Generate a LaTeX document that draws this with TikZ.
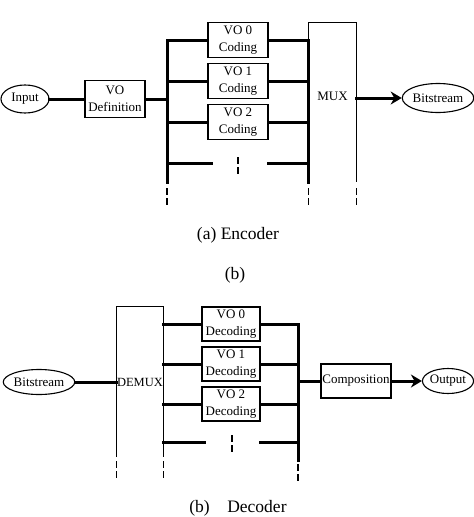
\documentclass[tikz,border=0pt]{standalone}
\usepackage{fontspec}
\setmainfont{Liberation Serif}
\usetikzlibrary{arrows.meta,shapes.geometric,calc}

\begin{document}
\begin{tikzpicture}[x=1pt,y=-1pt,
  box/.style={draw,line width=1.1pt,inner sep=0pt,align=center,font=\fontsize{13}{16.5}\selectfont},
  oval/.style={draw,ellipse,line width=1.1pt,inner sep=0pt,font=\fontsize{13}{16.5}\selectfont},
  wire/.style={line width=3pt,line cap=rect},
  gap/.style={line width=1.1pt,dash pattern=on 7pt off 3pt},
  title/.style={font=\fontsize{17.5}{19}\selectfont}]
\useasboundingbox (0,0) rectangle (474,517);

\node[oval,minimum width=48pt,minimum height=28pt] (in) at (25,99) {Input};
\node[box,minimum width=60pt,minimum height=37pt] (def) at (115,99) {VO\\Definition};
\node[box,minimum width=60pt,minimum height=35pt] (c0) at (238,40) {VO 0\\Coding};
\node[box,minimum width=60pt,minimum height=35pt] (c1) at (238,81) {VO 1\\Coding};
\node[box,minimum width=60pt,minimum height=35pt] (c2) at (238,122) {VO 2\\Coding};
\node[inner sep=0pt,minimum width=47pt,minimum height=159pt,text depth=12pt,font=\fontsize{13}{16.5}\selectfont] (mux) at (332.5,102.5) {MUX};
\node[oval,minimum width=70pt,minimum height=29pt] (bs) at (438,98) {Bitstream};

\coordinate (lb) at (167,40);
\coordinate (lbe) at (167,182);
\coordinate (e3) at (211,163);
\coordinate (e3r) at (268,163);

\draw[wire] (in) -- (def);
\draw[wire] (def.east) -- (def.east -| lb);
\draw[wire] (lb) -- (lbe);
\foreach \n in {c0,c1,c2}{
  \draw[wire] (\n.west -| lb) -- (\n.west);
  \draw[wire] (\n.east) -- (\n.east -| mux.west);
}
\draw[wire] (e3 -| lb) -- (e3);
\draw[wire] (e3r) -- (e3r -| mux.west);
\draw[gap] (238,157) -- (238,177);
\draw[line width=1.1pt] (mux.south west) -- (mux.north west) -- (mux.north east) -- (mux.south east);
\draw[wire] (c0.east -| mux.west) -- (mux.south west);
\draw[wire,-{Stealth[length=11pt,width=13pt]}] (mux.east |- bs) -- (bs.west);
\foreach \c in {lbe,mux.south west,mux.south east}
  \draw[gap] ($(\c)+(0,6)$) -- ++(0,18);

\node[title] (enc) at (238,235) {(a) Encoder};
\node[title] (sub) at (235,275) {(b)};

\node[oval,minimum width=68pt,minimum height=25pt] (bs2) at (39,382) {Bitstream};
\node[inner sep=0pt,minimum width=46pt,minimum height=150pt,font=\fontsize{12.5}{16}\selectfont] (dmx) at (140,382) {DEMUX};
\node[box,minimum width=58pt,minimum height=34pt] (d0) at (231,324) {VO 0\\Decoding};
\node[box,minimum width=58pt,minimum height=34pt] (d1) at (231,364) {VO 1\\Decoding};
\node[box,minimum width=58pt,minimum height=34pt] (d2) at (231,404) {VO 2\\Decoding};
\node[box,minimum width=70pt,minimum height=34pt] (comp) at (356,381) {Composition};
\node[oval,minimum width=46pt,minimum height=25pt] (out) at (448,381) {Output};

\coordinate (rb) at (298,324);
\coordinate (rbe) at (298,460);
\coordinate (f3) at (204,442);
\coordinate (f3r) at (260,442);

\draw[line width=1.1pt] (dmx.south west) -- (dmx.north west) -- (dmx.north east) -- (dmx.south east);
\draw[wire] (bs2.east) -- (bs2.east -| dmx.west);
\foreach \n in {d0,d1,d2}{
  \draw[wire] (\n.west -| dmx.east) -- (\n.west);
  \draw[wire] (\n.east) -- (\n.east -| rb);
}
\draw[wire] (f3 -| dmx.east) -- (f3);
\draw[wire] (f3r) -- (f3r -| rb);
\draw[gap] (232,435) -- (232,455);
\draw[wire] (rb) -- (rbe);
\draw[wire] (comp.west -| rb) -- (comp.west);
\draw[wire,-{Stealth[length=11pt,width=13pt]}] (comp.east) -- (out.west);
\foreach \c in {dmx.south west,dmx.south east,rbe}
  \draw[gap] ($(\c)+(0,4)$) -- ++(0,20);

\node[title] (dec) at (238,508) {(b)\quad Decoder};
\end{tikzpicture}
\end{document}
